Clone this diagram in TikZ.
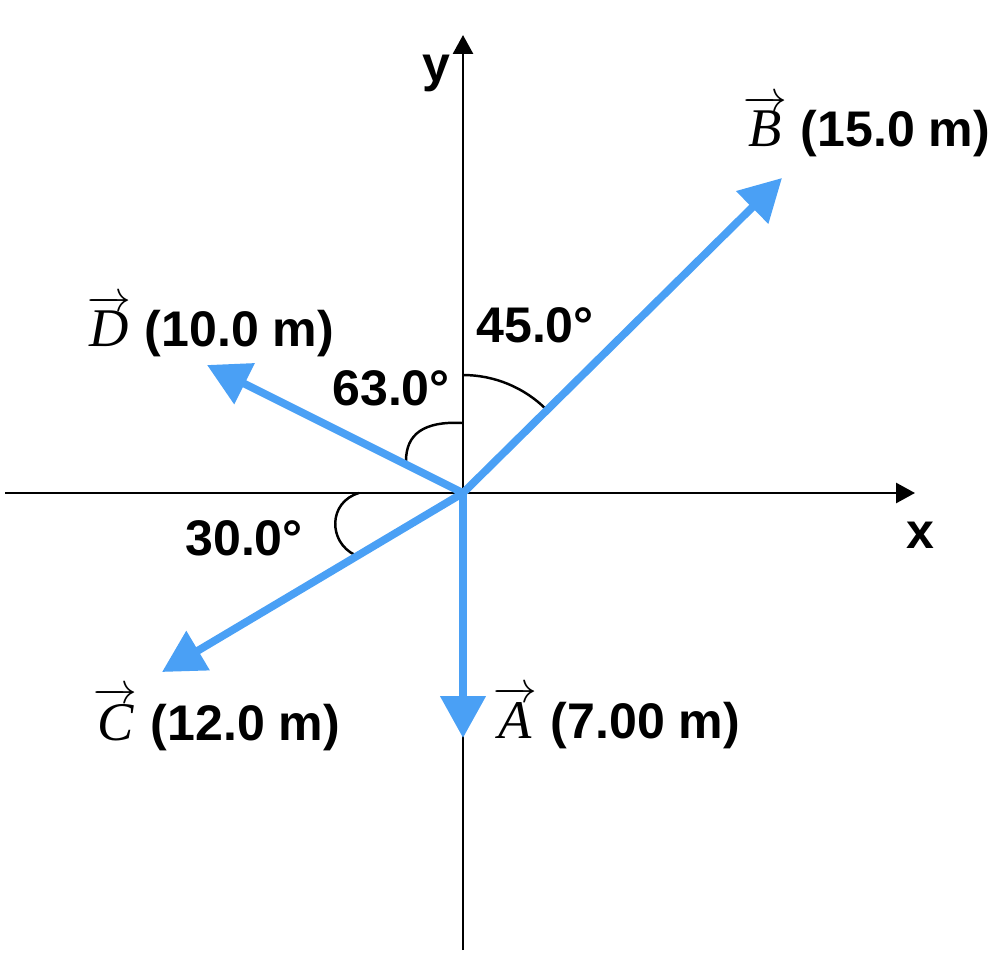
\documentclass[tikz,border=0pt]{standalone}
\usepackage{amsmath}
\usepackage{fontspec}
\setmainfont{Liberation Sans}
\newfontfamily\vecfont{Liberation Serif}
\usetikzlibrary{arrows.meta,positioning}
\definecolor{vecblue}{RGB}{74,160,245}

\newcommand{\vecname}[1]{$\overrightarrow{\text{\vecfont\itshape\mdseries\fontsize{31pt}{34pt}\selectfont #1}}$}

\begin{document}
\begin{tikzpicture}[x=0.02cm, y=0.02cm]

\tikzstyle{axis} = [draw, line width=1.6pt, -{Triangle[length=0.38cm, width=0.4cm]}]

\tikzstyle{vec} = [draw=vecblue, line width=4.4pt, -{Triangle[length=0.84cm, width=0.88cm]}]

\tikzstyle{lbl} = [inner sep=0pt, anchor=base west, font=\fontsize{28.5pt}{32pt}\selectfont\bfseries]

\tikzstyle{angarc} = [draw, line width=1.4pt]

\useasboundingbox (0,0) rectangle (996,954);

\coordinate (O) at (463,461);

% axes
\coordinate (x_left) at (5,461);
\coordinate (x_right) at (915,461);
\coordinate (y_bot) at (463,4);
\coordinate (y_top) at (463,919);
\path[axis] (x_left) -- (x_right);
\path[axis] (y_bot) -- (y_top);
\node [lbl] (x_txt) at (906,406) {x};
\node [lbl] (y_txt) at (422,872) {y};

% angles
\draw[angarc] ([shift={(90:2.36cm)}]O) arc[start angle=90, end angle=45, radius=2.36cm];
\draw[angarc] (462,531) .. controls (424,533) and (406,520) .. (406,493);
\draw[angarc] (359,461) .. controls (328,452) and (328,412) .. (355,399);
\node [lbl] (ang_b) at (476,611) {45.0°};
\node [lbl] (ang_d) at (332,548) {63.0°};
\node [lbl] (ang_c) at (185,399) {30.0°};

% vectors
\coordinate (tip_a) at (463,216);
\coordinate (tip_b) at (782,776);
\coordinate (tip_c) at (162,282);
\coordinate (tip_d) at (207,589);
\path[vec] (O) -- (tip_a);
\path[vec] (O) -- (tip_b);
\path[vec] (O) -- (tip_c);
\path[vec] (O) -- (tip_d);

\node [lbl] (txt_a) at (493,216) {\vecname{A} (7.00 m)};
\node [lbl] (txt_b) at (743,807) {\vecname{B} (15.0 m)};
\node [lbl] (txt_c) at (93,214) {\vecname{C} (12.0 m)};
\node [lbl] (txt_d) at (87,607) {\vecname{D} (10.0 m)};

\end{tikzpicture}
\end{document}
